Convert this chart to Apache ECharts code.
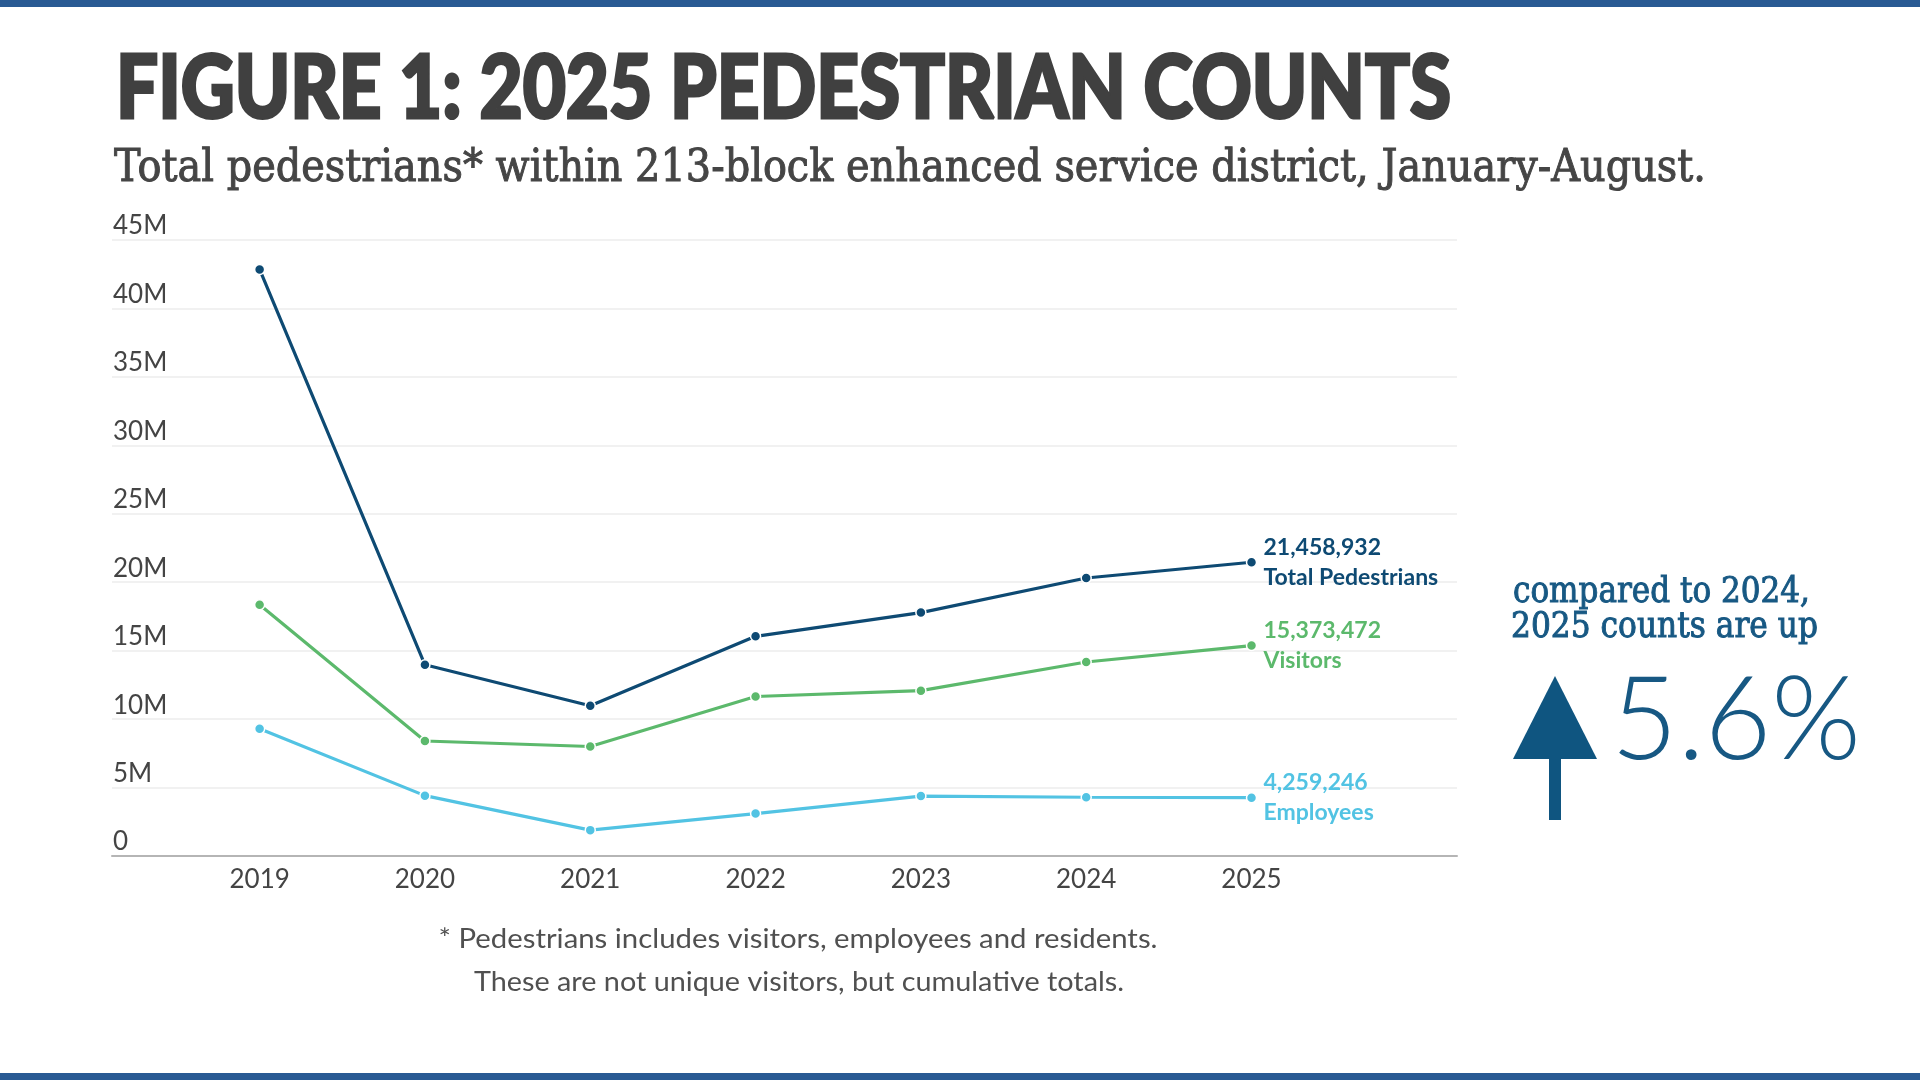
<!DOCTYPE html>
<html>
<head>
<meta charset="utf-8">
<script src="https://cdn.jsdelivr.net/npm/echarts@6/dist/echarts.min.js"></script>
<style>
html, body { margin: 0; padding: 0; background: #fff; }
#chart { width: 1920px; height: 1080px; }
</style>
</head>
<body>
<div id="chart"></div>
<script>
// data
const years = [2019, 2020, 2021, 2022, 2023, 2024, 2025]
const totalPedestrians = [42850000, 13970000, 10980000, 16050000, 17780000, 20310000, 21458932]
const visitors = [18360000, 8400000, 8000000, 11650000, 12080000, 14170000, 15373472]
const employees = [9290000, 4410000, 1890000, 3100000, 4380000, 4290000, 4259246]
const seriesNames = ['Total Pedestrians', 'Visitors', 'Employees']
const seriesColors = ['#0e4a73', '#5cb96c', '#52c3e3']

const titleText = 'FIGURE 1: 2025 PEDESTRIAN COUNTS'
const subtitleText = 'Total pedestrians* within 213-block enhanced service district, January-August.'
const noteLines = ['* Pedestrians includes visitors, employees and residents.', 'These are not unique visitors, but cumulative totals.']
const compareLines = ['compared to 2024,', '2025 counts are up']
const changeText = '5.6%'

const myChart = echarts.init(document.getElementById('chart'))

// squeeze/stretch a text so it spans the width seen in the reference
const ctx = document.createElement('canvas').getContext('2d')
function fitText(text, font, x, y, width, fill, align, stroke) {
    ctx.font = font
    const w = ctx.measureText(text).width
    const style = { text: text, font: font, fill: fill, textVerticalAlign: 'middle' }
    if (stroke) {
        style.stroke = fill
        style.lineWidth = stroke
    }
    return {
        type: 'text',
        x: align === 'center' ? x - width / 2 : x,
        y: y,
        scaleX: width / w,
        style: style
    }
}

function makeSeries(name, values, color) {
    return {
        name: name,
        type: 'line',
        data: years.map((y, i) => [y, values[i]]),
        symbol: 'circle',
        symbolSize: 10,
        lineStyle: { color: color, width: 3.2 },
        itemStyle: { color: color, borderColor: '#fff', borderWidth: 1.5 },
        endLabel: {
            show: true,
            distance: 12,
            formatter: p => '{v|' + p.value[1].toLocaleString('en-US') + '}\n{n|' + p.seriesName + '}',
            rich: {
                v: { color: color, fontFamily: 'Lato', fontWeight: 'bold', fontSize: 23, lineHeight: 30 },
                n: { color: color, fontFamily: 'Lato', fontWeight: 'bold', fontSize: 23, lineHeight: 30 }
            }
        }
    }
}

const option = {
    animation: false,
    backgroundColor: '#fff',
    grid: { left: 112, right: 463, top: 240, bottom: 224 },
    xAxis: {
        type: 'value',
        min: 2018.107,
        max: 2026.243,
        axisLine: { lineStyle: { color: '#b5b5b5', width: 2 } },
        axisTick: { show: false },
        splitLine: { show: false },
        axisLabel: {
            customValues: years,
            formatter: v => String(v),
            color: '#444',
            fontFamily: 'Lato',
            fontSize: 26,
            margin: 11
        }
    },
    yAxis: {
        type: 'value',
        min: 0,
        max: 45000000,
        interval: 5000000,
        axisLine: { show: false },
        axisTick: { show: false },
        splitLine: { lineStyle: { color: '#ececec', width: 1.5 } },
        axisLabel: {
            inside: true,
            margin: 1,
            verticalAlign: 'bottom',
            align: 'left',
            padding: [0, 0, 1, 0],
            color: '#444',
            fontFamily: 'Lato',
            fontSize: 26,
            formatter: v => v === 0 ? '0' : (v / 1000000) + 'M'
        }
    },
    series: [
        makeSeries(seriesNames[0], totalPedestrians, seriesColors[0]),
        makeSeries(seriesNames[1], visitors, seriesColors[1]),
        makeSeries(seriesNames[2], employees, seriesColors[2])
    ],
    graphic: [
        { type: 'rect', shape: { x: 0, y: 0, width: 1920, height: 7 }, style: { fill: '#295a93' } },
        { type: 'rect', shape: { x: 0, y: 1073, width: 1920, height: 7 }, style: { fill: '#295a93' } },
        fitText(titleText, '900 88px Lato', 116, 90, 1335, '#404040', null, 3),
        fitText(subtitleText, '44px "DejaVu Serif"', 114, 170, 1592, '#454545', null, 1),
        fitText(compareLines[0], '35px "DejaVu Serif"', 1513, 593, 297, '#175883', null, 1),
        fitText(compareLines[1], '35px "DejaVu Serif"', 1511, 628, 307, '#175883', null, 1),
        fitText(changeText, '300 116px Lato', 1611, 722, 250, '#175883'),
        { type: 'polygon', shape: { points: [[1513, 759], [1555, 676], [1597, 759]] }, style: { fill: '#0f5580' } },
        { type: 'rect', shape: { x: 1549, y: 757, width: 12, height: 63 }, style: { fill: '#0f5580' } },
        fitText(noteLines[0], '26px Lato', 798, 940, 719, '#505050', 'center'),
        fitText(noteLines[1], '26px Lato', 799, 983, 650, '#505050', 'center')
    ]
}

myChart.setOption(option)
</script>
</body>
</html>
